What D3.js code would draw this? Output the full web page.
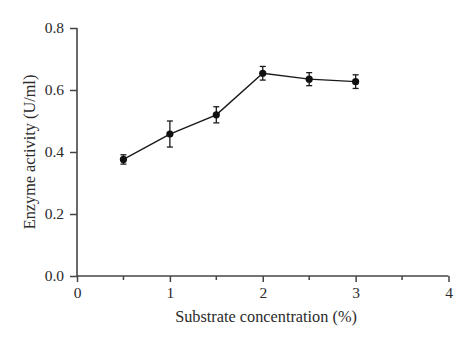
<!DOCTYPE html>
<html><head><meta charset="utf-8">
<script src="https://cdn.jsdelivr.net/npm/d3@7"></script>
<style>body{margin:0;background:#fff}svg{display:block}text{font-family:"Liberation Serif","Times New Roman",serif;fill:#2b2b2b}</style>
</head><body><svg id="c" width="474" height="347"></svg>
<script>
const concentration = [0.5, 1, 1.5, 2, 2.5, 3];
const activity = [0.376, 0.458, 0.520, 0.654, 0.635, 0.627];
const errorBar = [0.015, 0.042, 0.026, 0.022, 0.021, 0.022];
const xTicks = [0, 1, 2, 3, 4];
const xMinorTicks = [0.5, 1.5, 2.5, 3.5];
const yTicks = [0.0, 0.2, 0.4, 0.6, 0.8];
const xTitle = "Substrate concentration (%)";
const yTitle = "Enzyme activity (U/ml)";

const svg = d3.select("#c");
const x = d3.scaleLinear().domain([0, 4]).range([77, 448.5]);
const y = d3.scaleLinear().domain([0, 0.8]).range([276, 28]);
const axisColor = "#444";

const gx = svg.append("g").attr("transform", `translate(0,${y(0)})`)
  .call(d3.axisBottom(x).tickValues(xTicks).tickFormat(d3.format("d")).tickSize(6).tickPadding(5));
gx.append("g").selectAll("line").data(xMinorTicks).join("line")
  .attr("x1", d => x(d)).attr("x2", d => x(d)).attr("y1", 0).attr("y2", 4)
  .attr("stroke", axisColor).attr("stroke-width", 1.5);
const gy = svg.append("g").attr("transform", `translate(${x(0)},0)`)
  .call(d3.axisLeft(y).tickValues(yTicks).tickFormat(d3.format(".1f")).tickSize(7).tickPadding(6));
[gx, gy].forEach(g => {
  g.select(".domain").attr("stroke", axisColor).attr("stroke-width", 1.6);
  g.selectAll(".tick line").attr("stroke", axisColor).attr("stroke-width", 1.5);
  g.selectAll(".tick text").style("font-size", "15.5px").attr("fill", "#2b2b2b");
});
gx.select(".domain").attr("d", `M${x(0)},0H${x(4)}`);
gy.select(".domain").attr("d", `M0,${y(0)}V${y(0.8)}`);

const pts = concentration.map((c, i) => ({c, v: activity[i], e: errorBar[i]}));
svg.append("path").datum(pts)
  .attr("fill", "none").attr("stroke", "#1a1a1a").attr("stroke-width", 1.4)
  .attr("d", d3.line().x(d => x(d.c)).y(d => y(d.v)));
const eb = svg.append("g").attr("stroke", "#1a1a1a").attr("stroke-width", 1.3);
eb.selectAll("line.v").data(pts).join("line").attr("class", "v")
  .attr("x1", d => x(d.c)).attr("x2", d => x(d.c)).attr("y1", d => y(d.v - d.e)).attr("y2", d => y(d.v + d.e));
eb.selectAll("line.t").data(pts).join("line").attr("class", "t")
  .attr("x1", d => x(d.c) - 3).attr("x2", d => x(d.c) + 3).attr("y1", d => y(d.v + d.e)).attr("y2", d => y(d.v + d.e));
eb.selectAll("line.b").data(pts).join("line").attr("class", "b")
  .attr("x1", d => x(d.c) - 3).attr("x2", d => x(d.c) + 3).attr("y1", d => y(d.v - d.e)).attr("y2", d => y(d.v - d.e));
svg.append("g").selectAll("circle").data(pts).join("circle")
  .attr("cx", d => x(d.c)).attr("cy", d => y(d.v)).attr("r", 3.6).attr("fill", "#111");

svg.append("text").attr("x", 266).attr("y", 322).attr("text-anchor", "middle")
  .style("font-size", "16.3px").text(xTitle);
svg.append("text").attr("transform", "translate(35,152) rotate(-90)").attr("text-anchor", "middle")
  .style("font-size", "16.3px").text(yTitle);
</script></body></html>
